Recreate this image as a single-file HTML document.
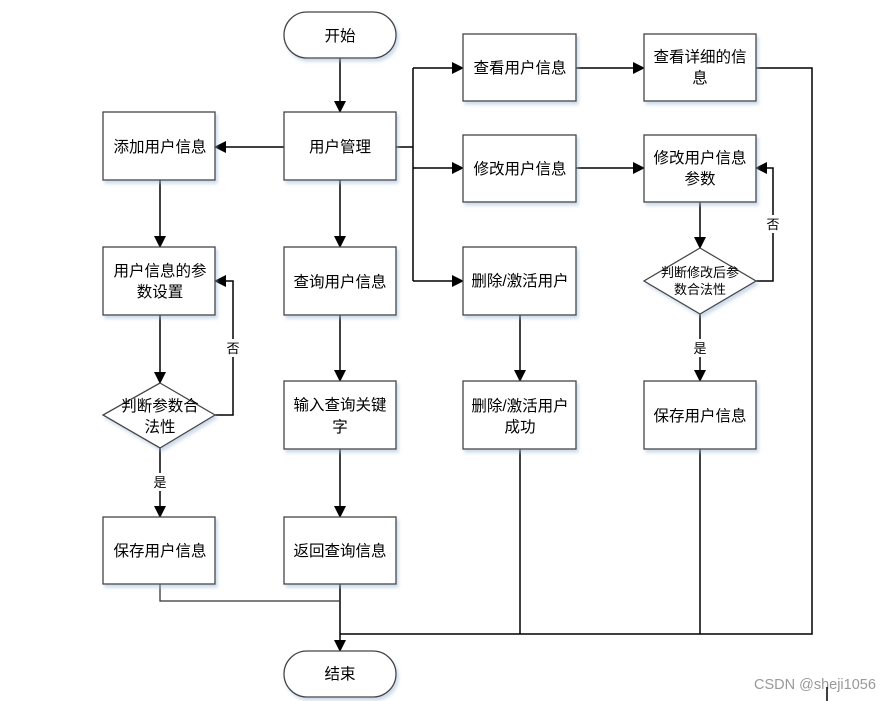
<!DOCTYPE html>
<html><head><meta charset="utf-8"><style>
html,body{margin:0;padding:0;background:#fff;}
svg{display:block;}
text{font-family:"Liberation Sans","Noto Sans CJK SC",sans-serif;font-size:15.5px;fill:#000;}
.b{fill:#fff;stroke:#444;stroke-width:1.3;}
.l{stroke:#000;stroke-width:1.5;fill:none;}
.g{stroke:#333;stroke-width:1.3;fill:none;}
</style></head><body>
<svg width="892" height="701" viewBox="0 0 892 701" xmlns="http://www.w3.org/2000/svg">
<defs>
<marker id="a" markerWidth="12" markerHeight="12" refX="11" refY="6" orient="auto" markerUnits="userSpaceOnUse">
<path d="M0,0 L12,6 L0,12 z" fill="#000"/></marker>
<filter id="s" x="-10%" y="-10%" width="130%" height="130%"><feDropShadow dx="2" dy="3" stdDeviation="1.5" flood-color="#9db8d8" flood-opacity="0.5"/></filter>
</defs>

<line class="l" x1="340" y1="58" x2="340" y2="112" marker-end="url(#a)"/>
<line class="l" x1="284" y1="147" x2="215" y2="147" marker-end="url(#a)"/>
<line class="l" x1="160" y1="180" x2="160" y2="247" marker-end="url(#a)"/>
<line class="l" x1="160" y1="315" x2="160" y2="383" marker-end="url(#a)"/>
<line class="l" x1="160" y1="448" x2="160" y2="473"/>
<line class="l" x1="160" y1="491" x2="160" y2="517" marker-end="url(#a)"/>
<polyline class="l" points="215,415 233,415 233,357"/>
<polyline class="l" points="233,339 233,281 215,281" marker-end="url(#a)"/>
<line class="l" x1="340" y1="180" x2="340" y2="247" marker-end="url(#a)"/>
<line class="l" x1="340" y1="315" x2="340" y2="381" marker-end="url(#a)"/>
<line class="l" x1="340" y1="449" x2="340" y2="517" marker-end="url(#a)"/>
<line class="l" x1="340" y1="584" x2="340" y2="651" marker-end="url(#a)"/>
<polyline class="g" points="160,584 160,601 340,601"/>
<polyline class="l" points="396,147 413,147"/>
<line class="l" x1="413" y1="68" x2="413" y2="281"/>
<line class="l" x1="413" y1="68" x2="463" y2="68" marker-end="url(#a)"/>
<line class="l" x1="413" y1="168" x2="463" y2="168" marker-end="url(#a)"/>
<line class="l" x1="413" y1="281" x2="463" y2="281" marker-end="url(#a)"/>
<line class="l" x1="576" y1="68" x2="644" y2="68" marker-end="url(#a)"/>
<line class="l" x1="576" y1="168" x2="644" y2="168" marker-end="url(#a)"/>
<polyline class="l" points="756,68 812,68 812,634 340,634"/>
<line class="l" x1="520" y1="315" x2="520" y2="381" marker-end="url(#a)"/>
<line class="l" x1="520" y1="449" x2="520" y2="634"/>
<line class="l" x1="700" y1="202" x2="700" y2="248" marker-end="url(#a)"/>
<line class="l" x1="700" y1="314" x2="700" y2="339"/>
<line class="l" x1="700" y1="357" x2="700" y2="381" marker-end="url(#a)"/>
<line class="l" x1="700" y1="449" x2="700" y2="634"/>
<polyline class="l" points="756,281 773,281 773,233"/>
<polyline class="l" points="773,215 773,168 756,168" marker-end="url(#a)"/>

<g text-anchor="middle" style="font-size:13px">
<text x="233" y="353" style="font-size:13px">否</text>
<text x="160" y="487" style="font-size:13px">是</text>
<text x="773" y="229" style="font-size:13px">否</text>
<text x="700" y="353" style="font-size:13px">是</text>
</g>

<g filter="url(#s)">
<rect class="b" x="284" y="12" width="112" height="46" rx="23"/>
<rect class="b" x="284" y="112" width="112" height="68"/>
<rect class="b" x="103" y="112" width="112" height="68"/>
<rect class="b" x="103" y="247" width="112" height="68"/>
<polygon class="b" points="160,383 215,415 160,448 103,415"/>
<rect class="b" x="103" y="517" width="112" height="67"/>
<rect class="b" x="284" y="247" width="112" height="68"/>
<rect class="b" x="284" y="381" width="112" height="68"/>
<rect class="b" x="284" y="517" width="112" height="67"/>
<rect class="b" x="284" y="651" width="112" height="46" rx="23"/>
<rect class="b" x="463" y="34" width="113" height="67"/>
<rect class="b" x="463" y="135" width="113" height="67"/>
<rect class="b" x="463" y="247" width="113" height="68"/>
<rect class="b" x="463" y="381" width="113" height="68"/>
<rect class="b" x="644" y="34" width="112" height="67"/>
<rect class="b" x="644" y="135" width="112" height="67"/>
<polygon class="b" points="700,248 756,281 700,314 644,281"/>
<rect class="b" x="644" y="381" width="112" height="68"/>
</g>

<g text-anchor="middle">
<text x="340" y="41">开始</text>
<text x="340" y="152">用户管理</text>
<text x="160" y="152">添加用户信息</text>
<text x="160" y="276">用户信息的参</text>
<text x="160" y="297">数设置</text>
<text x="160" y="411">判断参数合</text>
<text x="160" y="432">法性</text>
<text x="160" y="556">保存用户信息</text>
<text x="340" y="287">查询用户信息</text>
<text x="340" y="410">输入查询关键</text>
<text x="340" y="432">字</text>
<text x="340" y="556">返回查询信息</text>
<text x="340" y="679">结束</text>
<text x="520" y="73">查看用户信息</text>
<text x="520" y="174">修改用户信息</text>
<text x="520" y="286">删除/激活用户</text>
<text x="520" y="411">删除/激活用户</text>
<text x="520" y="432">成功</text>
<text x="700" y="62">查看详细的信</text>
<text x="700" y="83">息</text>
<text x="700" y="163">修改用户信息</text>
<text x="700" y="184">参数</text>
<text x="700" y="277" style="font-size:13px">判断修改后参</text>
<text x="700" y="294" style="font-size:13px">数合法性</text>
<text x="700" y="421">保存用户信息</text>
</g>

<text x="754" y="689" style="font-size:14.5px;fill:#999">CSDN @sheji1056</text>
<line x1="827" y1="687" x2="827" y2="701" stroke="#000" stroke-width="1.5"/>
</svg>
</body></html>
